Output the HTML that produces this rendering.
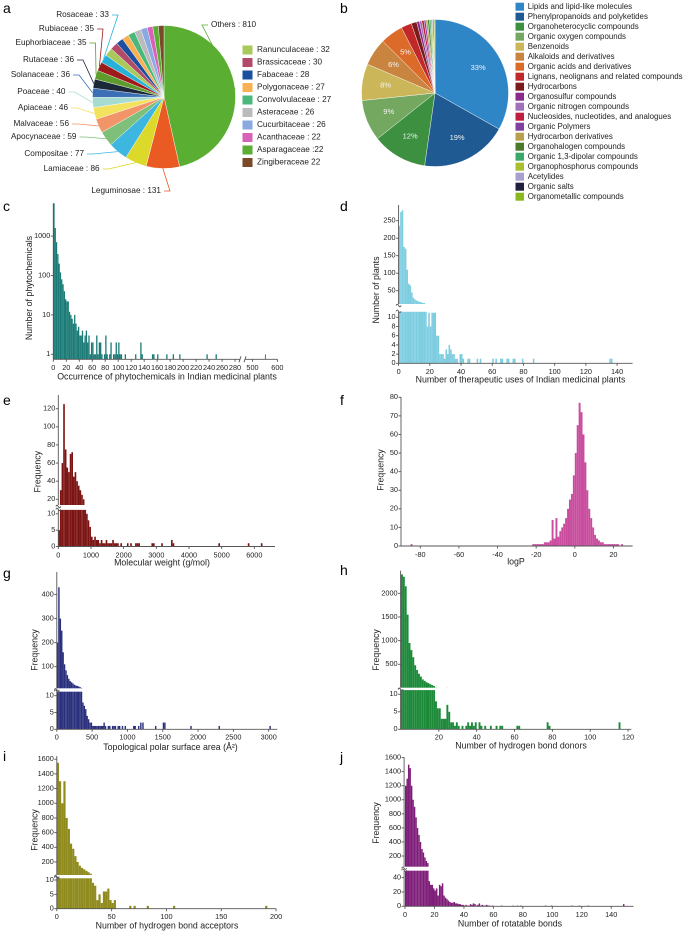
<!DOCTYPE html>
<html><head><meta charset="utf-8"><title>Phytochemical statistics</title>
<style>
html,body{margin:0;padding:0;background:#fff;}
svg{display:block;font-family:"Liberation Sans",Arial,sans-serif;}
</style></head>
<body>
<svg id="fig" width="685" height="932" viewBox="0 0 685 932" xmlns="http://www.w3.org/2000/svg">
<rect width="685" height="932" fill="#fff"/>
<text x="3" y="13" font-size="14">a</text>
<text x="340" y="13" font-size="14">b</text>
<text x="3" y="211" font-size="14">c</text>
<text x="340" y="211" font-size="14">d</text>
<text x="3" y="405" font-size="14">e</text>
<text x="340" y="405" font-size="14">f</text>
<text x="3" y="578" font-size="14">g</text>
<text x="340" y="575" font-size="14">h</text>
<text x="3" y="761" font-size="14">i</text>
<text x="340" y="762" font-size="14">j</text>
</svg>
<script>
// ---------- data ----------
const aNames = ["Others : 810","Leguminosae : 131","Lamiaceae : 86","Compositae : 77","Apocynaceae : 59","Malvaceae : 56","Apiaceae : 46","Poaceae : 40","Solanaceae : 36","Rutaceae : 36","Euphorbiaceae : 35","Rubiaceae : 35","Rosaceae : 33","Ranunculaceae : 32","Brassicaceae : 30","Fabaceae : 28","Polygonaceae : 27","Convolvulaceae : 27","Asteraceae : 26","Cucurbitaceae : 26","Acanthaceae : 22","Asparagaceae :22","Zingiberaceae 22"];
const aValues = [810,131,86,77,59,56,46,40,36,36,35,35,33,32,30,28,27,27,26,26,22,22,22];
const aColors = ["#5aae32","#e95b22","#dcd92a","#3db6e0","#7ebf7a","#f19569","#f3e25e","#a6dbd2","#3b70b6","#1b2838","#5d9c2c","#9e1b1b","#27b1d9","#a9c95b","#b14b69","#1c4fa0","#f8b152","#4bb87b","#bbbbbb","#8aa9e0","#d862b8","#5aae32","#7a4a28"];
const bNames = ["Lipids and lipid-like molecules","Phenylpropanoids and polyketides","Organoheterocyclic compounds","Organic oxygen compounds","Benzenoids","Alkaloids and derivatives","Organic acids and derivatives","Lignans, neolignans and related compounds","Hydrocarbons","Organosulfur compounds","Organic nitrogen compounds","Nucleosides, nucleotides, and analogues","Organic Polymers","Hydrocarbon derivatives","Organohalogen compounds","Organic 1,3-dipolar compounds","Organophosphorus compounds","Acetylides","Organic salts","Organometallic compounds"];
const bValues = [33,19,12,9,8,6,5,2.3,1.2,0.6,0.5,0.5,0.4,0.4,0.4,0.3,0.3,0.2,0.2,0.2];
const bColors = ["#2f86c6","#1f5a92","#3c9040","#74a860","#cbb75a","#c9843f","#dc6b2a","#c0282a","#7a1c1c","#8a2a8a","#a070b8","#c02040","#8040a0","#b8a050","#4a7a2a","#3aa86a","#a8c030","#a8a0d0","#202040","#8ab820"];

const cCounts = [8000,1600,700,350,200,120,80,60,40,25,22,22,12,10,8,6,10,6,4,5,3,3,4,2,3,4,2,3,1,2,2,1,1,3,1,2,2,1,0,1,3,1,0,1,2,0,1,1,2,1,2,1,1,0,0,1,0,0,0,0];
const cSparseX = [126,134,136,152,154,160,174,184,194,236,250,550];
const cSparseV = [1,2,1,1,1,1,1,1,1,1,1,1];

const dCounts = [235,275,280,175,170,110,70,65,45,30,25,22,20,18,17,15,15,12,8,11,8,11,11,11,6,6,2,2,2,1,3,2,4,3,2,2,1,1,0,2,2,1,0,0,1,1,0,0,0,0,1,0,1];
const dSparseX = [60,62,65,66,69,70,73,74,79,86,135,136];
const dSparseV = [1,1,1,1,1,1,1,1,1,1,1,1];

const eCounts = [5,30,60,125,75,55,50,70,72,45,50,40,35,30,25,20,12,10,8,6,3,2,3,2,2,1,2,1,1,2,1,1,1,2,1,1,1,0,1,0];
const eSparseX = [2100,2200,2350,2400,2450,2850,2900,3150,3450,3500,4900,5800,6200];
const eSparseV = [1,1,1,1,1,1,1,1,2,1,1,1,1];

const fCounts = [0,0,0,1,1,1,1,1,1,2,2,2,3,14,4,15,5,8,10,12,15,20,25,28,38,50,65,77,72,60,45,30,20,15,10,6,4,3,2,2,1,1,1,1,1,1,1,1,0,1];
const fSparseX = [-85];
const fSparseV = [1];

const gCounts = [200,430,300,250,160,110,85,65,50,40,35,30,25,22,20,18,15,12,8,7,6,4,3,2,2,1,1,1,1,1,1,1,1,2,1,0,1,1,0,1,1,1,0,1,1,0,1,0,1,0];
const gSparseX = [1080,1100,1150,1180,1210,1390,1500,1520,1890,2290,3010];
const gSparseV = [1,1,1,2,2,1,2,2,1,1,1];

const hCounts = [2400,2350,2150,1550,950,800,650,480,380,300,240,180,150,120,100,80,60,40,8,6,6,3,3,3,7,5,2,2,1,2,1,0,1,0,1,2,1,2,1,2,0,2,1,0,1,0,0,1,0,0,1,0,1,1,0,0,0,0,0,0,0,1,1];
const hSparseX = [77,78,115];
const hSparseV = [2,1,2];

const iCounts = [1550,1300,1000,1300,800,650,450,380,280,200,150,120,100,80,60,40,9,8,3,5,2,6,6,7,3,2,3,0];
const iSparseX = [66,70,82,106,190];
const iSparseV = [1,1,1,1,1];

const jCounts = [1200,1300,1500,1450,1200,1000,900,750,600,500,400,300,250,180,130,100,35,30,30,25,22,25,15,30,28,32,15,12,10,8,6,5,5,6,4,4,3,3,2,2,1,2,1,1,3,2,4,3,1,2,4,1,2,1,1,2,1,1,0,1];
const jSparseX = [65,73,76,78,95,99,113,118,124,148];
const jSparseV = [1,1,1,1,1,1,1,1,1,3];

const cTicks = [0,20,40,60,80,100,120,140,160,180,200,220,240,260,280,500,600];
const cYTicks = [1,10,100,1000];
const dXTicks = [0,20,40,60,80,100,120,140];
const dYUpper = [50,100,150,200,250];
const dYLower = [0,2,4,6,8,10];
const eXTicks = [0,1000,2000,3000,4000,5000,6000];
const eYUpper = [20,40,60,80,100,120];
const eYLower = [0,5,10];
const fXTicks = [-80,-60,-40,-20,0,20];
const fYTicks = [0,10,20,30,40,50,60,70,80];
const gXTicks = [0,500,1000,1500,2000,2500,3000];
const gYUpper = [100,200,300,400];
const gYLower = [0,5,10];
const hXTicks = [20,40,60,80,100,120];
const hYUpper = [500,1000,1500,2000];
const hYLower = [0,5,10];
const iXTicks = [0,50,100,150,200];
const iYUpper = [200,400,600,800,1000,1200,1400,1600];
const iYLower = [0,5,10];
const jXTicks = [0,20,40,60,80,100,120,140];
const jYUpper = [200,400,600,800,1000,1200,1400,1600];
const jYLower = [0,20,40];

// ---------- helpers ----------
const NS = "http://www.w3.org/2000/svg";
const svg = document.getElementById("fig");
function mk(tag, attrs, parent) {
  const e = document.createElementNS(NS, tag);
  for (const k in attrs) e.setAttribute(k, attrs[k]);
  parent.appendChild(e);
  return e;
}
function label(parent, x, y, s, size, anchor) {
  const t = mk("text", {x: x, y: y, "font-size": size, "text-anchor": anchor || "start", "dominant-baseline": "middle", fill: "#222"}, parent);
  t.textContent = s;
  return t;
}
function pt(cx, cy, r, deg) {
  const a = deg * Math.PI / 180;
  return [cx + r * Math.sin(a), cy - r * Math.cos(a)];
}
function drawPie(parent, cx, cy, r, values, colors, nm) {
  const tot = values.reduce((s, v) => s + v, 0);
  let a0 = 0;
  const mids = [];
  values.forEach((v, i) => {
    const a1 = a0 + v / tot * 360;
    const p0 = pt(cx, cy, r, a0), p1 = pt(cx, cy, r, a1);
    const large = (a1 - a0) > 180 ? 1 : 0;
    const p = mk("path", {d: `M${cx},${cy} L${p0[0]},${p0[1]} A${r},${r} 0 ${large} 1 ${p1[0]},${p1[1]} Z`, fill: colors[i], stroke: "#fff", "stroke-width": 0.4}, parent);
    
    
    mids.push((a0 + a1) / 2);
    a0 = a1;
  });
  return mids;
}

// ---------- panel a ----------
const ga = mk("g", {}, svg);


const aMids = drawPie(ga, 164, 97, 71.5, aValues, aColors, 'family');
const aLab = [[211,25,"start"],[161,191,"end"],[99.6,169,"end"],[84,154,"end"],[76.5,137,"end"],[69,124,"end"],[68,108,"end"],[65.5,92,"end"],[70,75,"end"],[74,60,"end"],[86.5,43,"end"],[94,29,"end"],[109,15,"end"]];
aLab.forEach((L, i) => {
  const rim = pt(164, 97, 71.5, aMids[i]);
  const ex = L[2] === "start" ? L[0] - 3 : L[0] + 3;
  const ln = mk("polyline", {points: `${ex},${L[1]} ${ex + (L[2]==="start"?-6:6)},${L[1]} ${rim[0]},${rim[1]}`, fill: "none", stroke: aColors[i], "stroke-width": 0.8}, ga);
  
  
  const t = label(ga, L[0], L[1], aNames[i], 8.2, L[2]);
  
  
});
for (let k = 13; k < aNames.length; k++) {
  const y = 50 + (k - 13) * 12.5;
  const sq = mk("rect", {x: 242.5, y: y - 4.5, width: 10, height: 9, fill: aColors[k]}, ga);
  
  
  const t = label(ga, 257, y, aNames[k], 8.2);
  
  
}

// ---------- panel b ----------
const gb = mk("g", {}, svg);


const bMids = drawPie(gb, 435, 93, 73.5, bValues, bColors, 'class');
const bTot = bValues.reduce((s, v) => s + v, 0);
bValues.forEach((v, i) => {
  if (v < 4) return;
  const p = pt(435, 93, 73.5 * 0.68, bMids[i]);
  const t = mk("text", {x: p[0], y: p[1], "font-size": 7.5, fill: "#f4f4f4", "text-anchor": "middle", "dominant-baseline": "middle"}, gb);
  t.textContent = Math.round(v / bTot * 100) + "%";
  
  
});
bNames.forEach((n, i) => {
  const y = 6.7 + i * 10;
  const sq = mk("rect", {x: 515.5, y: y - 4, width: 8.5, height: 8, fill: bColors[i]}, gb);
  
  
  const t = label(gb, 527.7, y, n, 7.9);
  
  
});

// ---------- histograms ----------
function axisText(parent, x, y, s, anchor, nm) {
  const t = label(parent, x, y, s, 7.3, anchor);
  
  
}
function hist(o) {
  const g = mk("g", {}, svg);
  
  
  const xs = o.xs;
  const col = o.color;
  function bar(xv, v, w) {
    if (v <= 0) return;
    const x1 = xs(xv), x2 = xs(xv + w);
    const bw = Math.max(x2 - x1, 0.9);
    if (o.log) {
      const yt = Math.max(o.logY(v), o.top);
      const r = mk("rect", {x: x1, y: yt, width: bw, height: o.axisY - yt, fill: col}, g);
      
      
      return;
    }
    const lv = Math.min(v, o.lvmax);
    const r = mk("rect", {x: x1, y: o.axisY - lv * o.lpy, width: bw, height: lv * o.lpy, fill: col}, g);
    
    
    if (o.ubase && v > o.uvbase) {
      const yt = Math.max(o.ubase - (v - o.uvbase) * o.upy, o.utop);
      const r2 = mk("rect", {x: x1, y: yt, width: bw, height: o.ubase - yt, fill: col}, g);
      
      
    }
  }
  o.counts.forEach((v, i) => bar(o.start + i * o.bw, v, o.bw));
  o.sx.forEach((x, i) => bar(x, o.sv[i], o.bw));
  const ax = o.ax, ay = o.axisY;
  const st = {stroke: "#555", "stroke-width": 0.9, fill: "none"};
  if (o.xbreak) {
    const l1 = mk("line", Object.assign({x1: ax, y1: ay, x2: o.xbreak[0], y2: ay}, st), g);
    
    
    const l2 = mk("line", Object.assign({x1: o.xbreak[1], y1: ay, x2: o.xEnd, y2: ay}, st), g);
    
    
    const br = mk("path", Object.assign({d: `M${o.xbreak[0]-1},${ay+3} l2,-6 M${o.xbreak[1]-1},${ay+3} l2,-6`}, st), g);
    
    
  } else {
    const l = mk("line", Object.assign({x1: ax, y1: ay, x2: o.xEnd, y2: ay}, st), g);
    
    
  }
  o.xt.forEach(v => {
    const x = xs(v);
    const tk = mk("line", Object.assign({x1: x, y1: ay, x2: x, y2: ay + 2.5}, st), g);
    
    
    axisText(g, x, o.xly, String(v), "middle", "x-tick-label");
  });
  const lowTop = o.log ? o.top : (o.ubase ? ay - o.lvmax * o.lpy : o.top);
  const yl = mk("line", Object.assign({x1: ax, y1: ay, x2: ax, y2: lowTop}, st), g);
  
  
  if (o.ubase) {
    const yu = mk("line", Object.assign({x1: ax, y1: o.ubase, x2: ax, y2: o.utop}, st), g);
    
    
    const sq = mk("path", Object.assign({d: `M${ax-2.5},${o.ubase+1.5} q1.2,-2.5 2.5,0 t2.5,0 M${ax-2.5},${lowTop-0.5} q1.2,-2.5 2.5,0 t2.5,0`}, st), g);
    
    
    o.yu.forEach(v => {
      const y = o.ubase - (v - o.uvbase) * o.upy;
      const tk = mk("line", Object.assign({x1: ax - 2.5, y1: y, x2: ax, y2: y}, st), g);
      
      
      axisText(g, ax - 3, y, String(v), "end", "y-tick-label");
    });
  }
  o.yl.forEach(v => {
    const y = o.log ? o.logY(v) : ay - v * o.lpy;
    const tk = mk("line", Object.assign({x1: ax - 2.5, y1: y, x2: ax, y2: y}, st), g);
    
    
    axisText(g, ax - 3, y, String(v), "end", "y-tick-label");
  });
  const tt = label(g, o.tx, o.ty, o.title, 8.8, "middle");
  
  
  const yt = mk("text", {x: 0, y: 0, "font-size": 8.8, "text-anchor": "middle", "dominant-baseline": "middle", fill: "#222", transform: `translate(${o.ylx},${o.yly}) rotate(-90)`}, g);
  yt.textContent = o.ylabel;
  
  
}

hist({name: "histogram-c", color: "#1a7a76", log: true, logY: v => 354.3 - 39.4 * Math.log10(v), top: 203.3,
  xs: v => v <= 290 ? 53.3 + 0.649 * v : 252.5 + (v - 500) * 0.249, ax: 53.3, axisY: 359.3, xEnd: 277.4, xbreak: [240, 245],
  counts: cCounts, start: 0, bw: 2, sx: cSparseX, sv: cSparseV, xt: cTicks, xly: 368, yl: cYTicks,
  title: "Occurrence of phytochemicals in Indian medicinal plants", tx: 167, ty: 377, ylabel: "Number of phytochemicals", ylx: 29.7, yly: 288});
hist({name: "histogram-d", color: "#7dcde0", xs: v => 398.6 + 1.5607 * v, ax: 398.6, axisY: 363.3, xEnd: 632.6,
  lpy: 4.6, lvmax: 11.2, ubase: 304, uvbase: 12, upy: 0.35, utop: 205,
  counts: dCounts, start: 0, bw: 1, sx: dSparseX, sv: dSparseV, xt: dXTicks, xly: 372, yl: dYLower, yu: dYUpper,
  title: "Number of therapeutic uses of Indian medicinal plants", tx: 520.5, ty: 380, ylabel: "Number of plants", ylx: 376.6, yly: 290});
hist({name: "histogram-e", color: "#7c1414", xs: v => 58.3 + 0.03267 * v, ax: 58.3, axisY: 546.5, xEnd: 275,
  lpy: 3.27, lvmax: 11.2, ubase: 505, uvbase: 13.7, upy: 0.906, utop: 395,
  counts: eCounts, start: 0, bw: 50, sx: eSparseX, sv: eSparseV, xt: eXTicks, xly: 555.5, yl: eYLower, yu: eYUpper,
  title: "Molecular weight (g/mol)", tx: 162, ty: 563, ylabel: "Frequency", ylx: 38.4, yly: 471.7});
hist({name: "histogram-f", color: "#c94c9e", xs: v => 401 + 1.931 * (v + 90), ax: 401, axisY: 546, xEnd: 632.6,
  lpy: 1.859, lvmax: 1e9, top: 397,
  counts: fCounts, start: -25, bw: 1, sx: fSparseX, sv: fSparseV, xt: fXTicks, xly: 555, yl: fYTicks,
  title: "logP", tx: 516, ty: 562, ylabel: "Frequency", ylx: 381.4, yly: 470});
hist({name: "histogram-g", color: "#2a2f7c", xs: v => 56.8 + 0.07063 * v, ax: 56.8, axisY: 729.3, xEnd: 277.4,
  lpy: 3.36, lvmax: 11.2, ubase: 688.3, uvbase: 10.3, upy: 0.2407, utop: 572,
  counts: gCounts, start: 0, bw: 20, sx: gSparseX, sv: gSparseV, xt: gXTicks, xly: 737.5, yl: gYLower, yu: gYUpper,
  title: "Topological polar surface area (Å²)", tx: 170.5, ty: 747.5, ylabel: "Frequency", ylx: 35, yly: 650});
hist({name: "histogram-h", color: "#1d8a3a", xs: v => 401 + 1.892 * v, ax: 400.6, axisY: 729.3, xEnd: 631.3,
  lpy: 3.5, lvmax: 11.2, ubase: 687.7, uvbase: 5, upy: 0.0473, utop: 570.7,
  counts: hCounts, start: 0, bw: 1, sx: hSparseX, sv: hSparseV, xt: hXTicks, xly: 737.5, yl: hYLower, yu: hYUpper,
  title: "Number of hydrogen bond donors", tx: 521, ty: 746, ylabel: "Frequency", ylx: 376.6, yly: 650});
hist({name: "histogram-i", color: "#8f8b1e", xs: v => 56.8 + 1.0965 * v, ax: 56.8, axisY: 908.7, xEnd: 276.1,
  lpy: 2.87, lvmax: 10.6, ubase: 875, uvbase: 23, upy: 0.07344, utop: 756,
  counts: iCounts, start: 0, bw: 2, sx: iSparseX, sv: iSparseV, xt: iXTicks, xly: 917.3, yl: iYLower, yu: iYUpper,
  title: "Number of hydrogen bond acceptors", tx: 167, ty: 926, ylabel: "Frequency", ylx: 35, yly: 830});
hist({name: "histogram-j", color: "#7e1d78", xs: v => 405 + 1.473 * v, ax: 404.1, axisY: 906.3, xEnd: 633.5,
  lpy: 0.7167, lvmax: 49.7, ubase: 866.7, uvbase: 48, upy: 0.0703, utop: 757.3,
  counts: jCounts, start: 0, bw: 1, sx: jSparseX, sv: jSparseV, xt: jXTicks, xly: 915, yl: jYLower, yu: jYUpper,
  title: "Number of rotatable bonds", tx: 510, ty: 924, ylabel: "Frequency", ylx: 376.6, yly: 823});
</script>
</body></html>
